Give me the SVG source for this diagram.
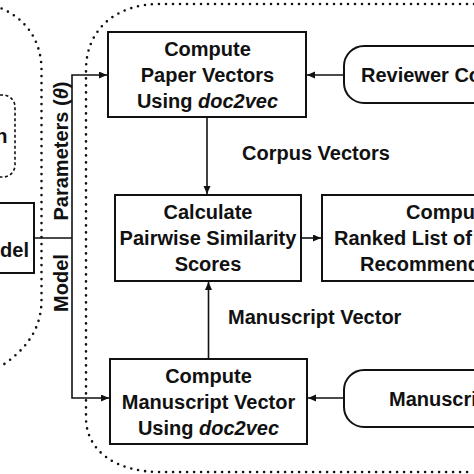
<svg xmlns="http://www.w3.org/2000/svg" width="474" height="474" viewBox="0 0 474 474">
<defs>
<style>
text{font-family:"Liberation Sans",Arial,sans-serif;font-weight:bold;font-size:20px;fill:#111}
.box{fill:#fff;stroke:#111;stroke-width:2}
.dot{fill:none;stroke:#111;stroke-width:2.6;stroke-linecap:round;stroke-dasharray:0 7}
.dash{fill:none;stroke:#111;stroke-width:1.6;stroke-dasharray:3 2.5}
.con{fill:none;stroke:#111;stroke-width:1.6}
.it{font-style:italic}
</style>
<marker id="ah" markerUnits="userSpaceOnUse" markerWidth="9" markerHeight="8" refX="8" refY="3.5" orient="auto">
<path d="M0,0 L8,3.5 L0,7 z" fill="#111"/>
</marker>
</defs>
<rect width="474" height="474" fill="#fff"/>
<g id="regions">
<path class="dot" d="M-5,6 C25,16 41.5,40 41.5,70 L41.5,300 C41.5,330 25,352 -5,370"/>
<path class="dot" d="M474,4 L160,4 C115,4 86,30 86,70 L86,418 C86,450 115,472 160,472 L474,472"/>
</g>
<g id="node-left-dashed">
<rect class="dash" x="-100" y="95" width="115" height="82" rx="12"/>
<text x="7.5" y="143" text-anchor="end">n</text>
</g>
<g id="node-model">
<rect class="box" x="-100" y="203" width="134" height="70"/>
<text x="29" y="257" text-anchor="end">Model</text>
</g>
<g id="node-paper-vectors">
<rect class="box" x="108" y="32" width="198" height="85"/>
<text x="207.5" y="55.5" text-anchor="middle">Compute</text>
<text x="207.5" y="81.5" text-anchor="middle">Paper Vectors</text>
<text x="207.5" y="107.5" text-anchor="middle">Using <tspan class="it">doc2vec</tspan></text>
</g>
<g id="node-reviewer-corpus">
<rect class="box" x="344" y="46" width="200" height="57" rx="20"/>
<text x="361" y="81.5">Reviewer Corpus</text>
</g>
<g id="node-similarity">
<rect class="box" x="115" y="195" width="186" height="86"/>
<text x="208" y="219" text-anchor="middle">Calculate</text>
<text x="208" y="245" text-anchor="middle">Pairwise Similarity</text>
<text x="208" y="271" text-anchor="middle">Scores</text>
</g>
<g id="node-ranked-list">
<rect class="box" x="322" y="195" width="200" height="86"/>
<text x="406" y="219">Compute</text>
<text x="334" y="245">Ranked List of</text>
<text x="360" y="271">Recommendations</text>
</g>
<g id="node-manuscript-vector">
<rect class="box" x="110" y="359" width="197" height="85"/>
<text x="208.5" y="383" text-anchor="middle">Compute</text>
<text x="208.5" y="409" text-anchor="middle">Manuscript Vector</text>
<text x="208.5" y="435" text-anchor="middle">Using <tspan class="it">doc2vec</tspan></text>
</g>
<g id="node-manuscript">
<rect class="box" x="344" y="370" width="200" height="57" rx="20"/>
<text x="389" y="405.5">Manuscript</text>
</g>
<g id="connectors">
<path class="con" d="M34,238 H72"/>
<path class="con" d="M72,238 V75 H107" marker-end="url(#ah)"/>
<path class="con" d="M72,238 V398 H109" marker-end="url(#ah)"/>
<path class="con" d="M343,75 H307" marker-end="url(#ah)"/>
<path class="con" d="M343,398 H308" marker-end="url(#ah)"/>
<path class="con" d="M207,118 V194" marker-end="url(#ah)"/>
<path class="con" d="M208.5,358 V282" marker-end="url(#ah)"/>
<path class="con" d="M302,238 H321" marker-end="url(#ah)"/>
<text transform="translate(67.5,151) rotate(-90)" text-anchor="middle">Parameters (<tspan class="it">θ</tspan>)</text>
<text transform="translate(67.5,283) rotate(-90)" text-anchor="middle">Model</text>
<text x="242" y="160">Corpus Vectors</text>
<text x="228" y="324">Manuscript Vector</text>
</g>
</svg>
